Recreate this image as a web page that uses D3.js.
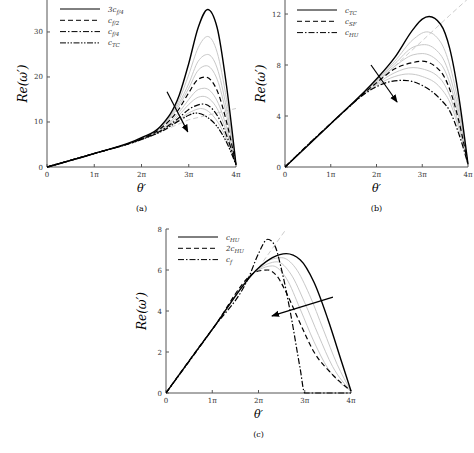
<!DOCTYPE html><html><head><meta charset="utf-8">
<script src="https://cdn.jsdelivr.net/npm/d3@7"></script>
<style>body{margin:0;background:#fff}text{font-family:"DejaVu Serif",serif}</style></head><body>
<svg id="s" width="474" height="453"></svg>
<script>
// theta in units of pi
const xTicks = [0,1,2,3,4];
const xTickLabels = ["0","1π","2π","3π","4π"];
// Panel (a)
const aYTicks = [0,10,20,30];
const aSolid = [[0,0],[1,3],[2,6.5],[2.4,9],[2.8,16],[3.0,23],[3.2,31],[3.4,35],[3.6,31],[3.8,18],[4,0.5]];
const aGray1 = [[0,0],[1,3],[2,6.4],[2.4,8.8],[2.8,15],[3.0,20.5],[3.2,26.5],[3.4,29],[3.6,25.5],[3.8,15],[4,0.5]];
const aGray2 = [[0,0],[1,3],[2,6.4],[2.4,8.7],[2.8,14.3],[3.0,18.5],[3.2,23.5],[3.4,25],[3.6,22],[3.8,13],[4,0.5]];
const aGray3 = [[0,0],[1,3],[2,6.3],[2.4,8.6],[2.8,13.7],[3.0,17.5],[3.2,21.5],[3.37,22.5],[3.6,19.5],[3.8,11.5],[4,0.5]];
const aDash = [[0,0],[1,3],[2,6.3],[2.4,8.5],[2.8,13],[3.0,16.5],[3.2,19.5],[3.35,20],[3.6,17],[3.8,10],[4,0.5]];
const aGray4 = [[0,0],[1,3],[2,6.2],[2.4,8.3],[2.8,12.2],[3.0,15],[3.2,17.2],[3.33,17.5],[3.6,14.7],[3.8,8.8],[4,0.5]];
const aGray5 = [[0,0],[1,3],[2,6.2],[2.4,8.1],[2.8,11.6],[3.0,13.9],[3.2,15.5],[3.3,15.7],[3.6,13],[3.8,7.8],[4,0.5]];
const aDashDot = [[0,0],[1,3],[2,6.2],[2.4,8],[2.8,11],[3.0,12.8],[3.2,13.8],[3.3,14],[3.6,11.5],[3.8,7],[4,0.5]];
const aGray6 = [[0,0],[1,3],[2,6.1],[2.4,7.9],[2.8,10.6],[3.0,12],[3.2,12.9],[3.25,13],[3.6,10.2],[3.8,6.2],[4,0.5]];
const aDDD = [[0,0],[1,3],[2,6.1],[2.4,7.8],[2.8,10.3],[3.0,11.5],[3.15,12],[3.4,11],[3.6,9],[3.8,5.5],[4,0.5]];
const aRef = [[2,6],[3,10.5],[4,13]];
const aLegend = ["3c_f/4","c_f/2","c_f/4","c_TC"];
// Panel (b)
const bYTicks = [0,4,8,12];
const bSolid = [[0,0],[1,3.4],[2,6.9],[2.4,8.6],[2.8,10.8],[3.0,11.6],[3.15,11.8],[3.4,11.2],[3.6,9.3],[3.8,5.5],[4,0.2]];
const bGray1 = [[0,0],[1,3.4],[2,6.8],[2.4,8.3],[2.8,10],[3.1,10.6],[3.4,9.8],[3.6,8],[3.8,4.8],[4,0.2]];
const bGray2 = [[0,0],[1,3.4],[2,6.8],[2.4,8.1],[2.8,9.4],[3.05,9.6],[3.4,8.8],[3.6,7.2],[3.8,4.3],[4,0.2]];
const bGray3 = [[0,0],[1,3.4],[2,6.7],[2.4,7.9],[2.8,8.8],[3.0,8.9],[3.4,8.1],[3.6,6.6],[3.8,3.9],[4,0.2]];
const bDash = [[0,0],[1,3.4],[2,6.6],[2.4,7.7],[2.8,8.2],[3.0,8.3],[3.4,7.5],[3.6,6.1],[3.8,3.6],[4,0.2]];
const bGray4 = [[0,0],[1,3.4],[2,6.5],[2.4,7.4],[2.8,7.8],[3.0,7.7],[3.4,6.9],[3.6,5.6],[3.8,3.3],[4,0.2]];
const bGray5 = [[0,0],[1,3.4],[2,6.4],[2.4,7.1],[2.7,7.3],[3.0,7.1],[3.4,6.2],[3.6,5.1],[3.8,3.0],[4,0.2]];
const bDashDot = [[0,0],[1,3.4],[2,6.3],[2.3,6.7],[2.6,6.8],[3.0,6.4],[3.4,5.3],[3.6,4.4],[3.8,2.6],[4,0.2]];
const bRef = [[2,6.6],[3,9.9],[3.6,11.9],[4,13.2]];
const bLegend = ["c_TC","c_SF","c_HU"];
// Panel (c)
const cYTicks = [0,2,4,6,8];
const cSolid = [[0,0],[1,3.1],[2,6.1],[2.3,6.6],[2.6,6.8],[2.9,6.5],[3.2,5.4],[3.5,3.6],[3.8,1.5],[4,0.1]];
const cGray1 = [[0,0],[1,3.1],[2,6.1],[2.25,6.5],[2.5,6.6],[2.8,6.1],[3.1,4.8],[3.4,3.1],[3.7,1.4],[4,0.1]];
const cGray2 = [[0,0],[1,3.1],[2,6.05],[2.2,6.3],[2.4,6.4],[2.7,5.8],[3.0,4.4],[3.3,2.8],[3.6,1.3],[4,0.1]];
const cGray3 = [[0,0],[1,3.1],[2,6.0],[2.3,6.2],[2.6,5.6],[2.9,4.1],[3.2,2.5],[3.5,1.2],[4,0.1]];
const cDash = [[0,0],[1,3.1],[2,5.95],[2.2,6.0],[2.4,5.7],[2.6,4.9],[2.9,3.4],[3.2,2.0],[3.6,0.9],[4,0.1]];
const cDashDot = [[0,0],[1,3.1],[1.8,5.7],[2.0,6.8],[2.2,7.5],[2.35,7.2],[2.5,6.0],[2.7,3.8],[2.9,1.2],[3.0,0],[4,0]];
const cRef = [[2,6.1],[2.6,8.0]];
const cLegend = ["c_HU","2c_HU","c_f"];

const svg = d3.select("#s");
function sub(t){ // "a_b" -> italic with subscript
  return t;
}
function panel(o){
  const x = d3.scaleLinear().domain([0,4]).range([o.x0,o.x1]);
  const y = d3.scaleLinear().domain([0,o.ymax]).range([o.y0,o.yTop]);
  const g = svg.append("g");
  g.append("line").attr("x1",o.x0).attr("x2",o.x0).attr("y1",o.y0).attr("y2",o.yTop).attr("stroke","#555");
  g.append("line").attr("x1",o.x0).attr("x2",o.x1).attr("y1",o.y0).attr("y2",o.y0).attr("stroke","#555");
  xTicks.forEach((t,i)=>{
    g.append("line").attr("x1",x(t)).attr("x2",x(t)).attr("y1",o.y0).attr("y2",o.y0-3).attr("stroke","#555");
    g.append("text").attr("x",x(t)).attr("y",o.y0+10).attr("text-anchor","middle").attr("font-size",7).attr("fill","#333").text(xTickLabels[i]);
  });
  o.yt.forEach(t=>{
    g.append("line").attr("x1",o.x0).attr("x2",o.x0+3).attr("y1",y(t)).attr("y2",y(t)).attr("stroke","#555");
    g.append("text").attr("x",o.x0-4).attr("y",y(t)+2.5).attr("text-anchor","end").attr("font-size",7).attr("fill","#333").text(t);
  });
  const line = d3.line().x(d=>x(d[0])).y(d=>y(d[1])).curve(d3.curveMonotoneX);
  const clip = "c"+o.id;
  g.append("clipPath").attr("id",clip).append("rect").attr("x",o.x0).attr("y",o.yTop).attr("width",o.x1-o.x0+8).attr("height",o.y0-o.yTop+2);
  const pg = g.append("g").attr("clip-path",`url(#${clip})`);
  pg.append("path").attr("d",d3.line().x(d=>x(d[0])).y(d=>y(d[1]))(o.ref)).attr("fill","none").attr("stroke","#ccc").attr("stroke-width",1).attr("stroke-dasharray","5,3");
  o.series.forEach(s=>{
    pg.append("path").attr("d",line(s.d)).attr("fill","none").attr("stroke",s.c).attr("stroke-width",s.w).attr("stroke-dasharray",s.da||null);
  });
  // arrow
  const a=o.arrow;
  g.append("line").attr("x1",x(a[0])).attr("y1",y(a[1])).attr("x2",x(a[2])).attr("y2",y(a[3])).attr("stroke","#000").attr("stroke-width",1.2).attr("marker-end","url(#ah)");
  // legend
  o.legend.forEach((l,i)=>{
    const ly=o.ly+i*11.3;
    const st=o.legStyles[i];
    g.append("line").attr("x1",o.lx).attr("x2",o.lx+40).attr("y1",ly).attr("y2",ly).attr("stroke","#000").attr("stroke-width",1).attr("stroke-dasharray",st||null);
    const [a1,b1]=l.split("_");
    const tx=g.append("text").attr("x",o.lx+48).attr("y",ly+2.5).attr("font-size",7).attr("font-style","italic").attr("fill","#333");
    tx.append("tspan").text(a1);
    tx.append("tspan").attr("dy",2).attr("font-size",5.5).text(b1);
  });
  g.append("text").attr("transform",`translate(${o.x0-20},${(o.y0+o.yTop)/2}) rotate(-90)`).attr("text-anchor","middle").attr("font-size",12).attr("font-style","italic").text("Re(ω′)");
  g.append("text").attr("x",(o.x0+o.x1)/2).attr("y",o.y0+25).attr("text-anchor","middle").attr("font-size",11).attr("font-style","italic").text("θ′");
  g.append("text").attr("x",(o.x0+o.x1)/2).attr("y",o.y0+44).attr("text-anchor","middle").attr("font-size",8).text(o.cap);
}
svg.append("defs").append("marker").attr("id","ah").attr("viewBox","0 0 10 10").attr("refX",9).attr("refY",5).attr("markerWidth",8).attr("markerHeight",8).attr("orient","auto").attr("markerUnits","userSpaceOnUse")
  .append("path").attr("d","M0,1 L10,5 L0,9 z").attr("fill","#000");
const K="#000", G="#c8c8c8", DA="5,3", DD="6,2,1.5,2", DDD="6,1.5,1.5,1.5,1.5,1.5";
panel({id:"a",x0:47,x1:236,y0:167,yTop:0,ymax:37.1,yt:aYTicks,cap:"(a)",ref:aRef,arrow:[2.54,16.7,2.98,7.8],
  lx:60,ly:9,legend:aLegend,legStyles:[null,DA,DD,DDD],
  series:[{d:aGray1,c:G,w:1},{d:aGray2,c:G,w:1},{d:aGray3,c:G,w:1},{d:aGray4,c:G,w:1},{d:aGray5,c:G,w:1},{d:aGray6,c:G,w:1},
    {d:aDDD,c:K,w:1.2,da:DDD},{d:aDashDot,c:K,w:1.2,da:DD},{d:aDash,c:K,w:1.2,da:DA},{d:aSolid,c:K,w:1.4}]});
panel({id:"b",x0:285,x1:468,y0:167,yTop:0,ymax:13.1,yt:bYTicks,cap:"(b)",ref:bRef,arrow:[1.88,8.0,2.45,5.1],
  lx:297,ly:10,legend:bLegend,legStyles:[null,DA,DD],
  series:[{d:bGray1,c:G,w:1},{d:bGray2,c:G,w:1},{d:bGray3,c:G,w:1},{d:bGray4,c:G,w:1},{d:bGray5,c:G,w:1},
    {d:bDashDot,c:K,w:1.2,da:DD},{d:bDash,c:K,w:1.2,da:DA},{d:bSolid,c:K,w:1.4}]});
panel({id:"c",x0:166,x1:351,y0:393,yTop:229,ymax:8,yt:cYTicks,cap:"(c)",ref:cRef,arrow:[3.61,4.68,2.29,3.76],
  lx:178,ly:237,legend:cLegend,legStyles:[null,DA,DD],
  series:[{d:cGray1,c:G,w:1},{d:cGray2,c:G,w:1},{d:cGray3,c:G,w:1},
    {d:cDashDot,c:K,w:1.2,da:DD},{d:cDash,c:K,w:1.2,da:DA},{d:cSolid,c:K,w:1.4}]});
</script></body></html>
